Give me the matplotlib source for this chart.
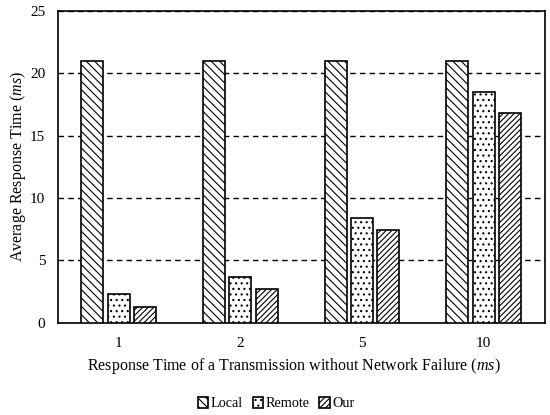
import matplotlib.pyplot as plt
import numpy as np

plt.rcParams['font.family'] = 'Liberation Serif'
plt.rcParams['mathtext.fontset'] = 'custom'
plt.rcParams['mathtext.it'] = 'Liberation Serif:italic'
plt.rcParams['mathtext.rm'] = 'Liberation Serif'
plt.rcParams['hatch.linewidth'] = 0.8

categories = ['1', '2', '5', '10']
local = [21, 21, 21, 21]
remote = [2.3, 3.7, 8.4, 18.5]
our = [1.3, 2.7, 7.4, 16.8]

x = np.arange(len(categories))
w = 0.18
step = 0.217

fig, ax = plt.subplots(figsize=(5.5, 4.15), dpi=100)
fig.subplots_adjust(left=0.105, right=0.99, top=0.974, bottom=0.222)

ax.bar(x - step, local, w, color='white', edgecolor='black', hatch='\\\\\\\\', linewidth=1.2, label='Local', zorder=3)
ax.bar(x, remote, w, color='white', edgecolor='black', hatch='...', linewidth=1.2, label='Remote', zorder=3)
ax.bar(x + step, our, w, color='white', edgecolor='black', hatch='//////', linewidth=1.2, label='Our', zorder=3)

ax.set_xlim(-0.5, 3.5)
ax.set_ylim(0, 25)
ax.set_yticks([0, 5, 10, 15, 20, 25])
ax.set_xticks(x)
ax.set_xticklabels(categories)
ax.tick_params(axis='x', length=0, labelsize=11, pad=10)
ax.tick_params(axis='y', length=0, labelsize=11, pad=9)
ax.yaxis.grid(True, linestyle=(0, (4, 3)), color='black', linewidth=1)
ax.set_axisbelow(True)
for s in ax.spines.values():
    s.set_linewidth(1.2)

ax.set_ylabel('Average Response Time ($\\mathit{ms}$)', fontsize=11.5)
ax.set_xlabel('Response Time of a Transmission without Network Failure ($\\mathit{ms}$)', fontsize=11.5)
ax.xaxis.set_label_coords(0.485, -0.105)
ax.yaxis.set_label_coords(-0.061, 0.5)

fig.legend(loc='center', bbox_to_anchor=(0.502, 0.027), ncol=3, frameon=False,
           fontsize=10.3, handlelength=0.75, handleheight=0.75, handletextpad=0.15, columnspacing=0.7)

fig.savefig('out.png')
